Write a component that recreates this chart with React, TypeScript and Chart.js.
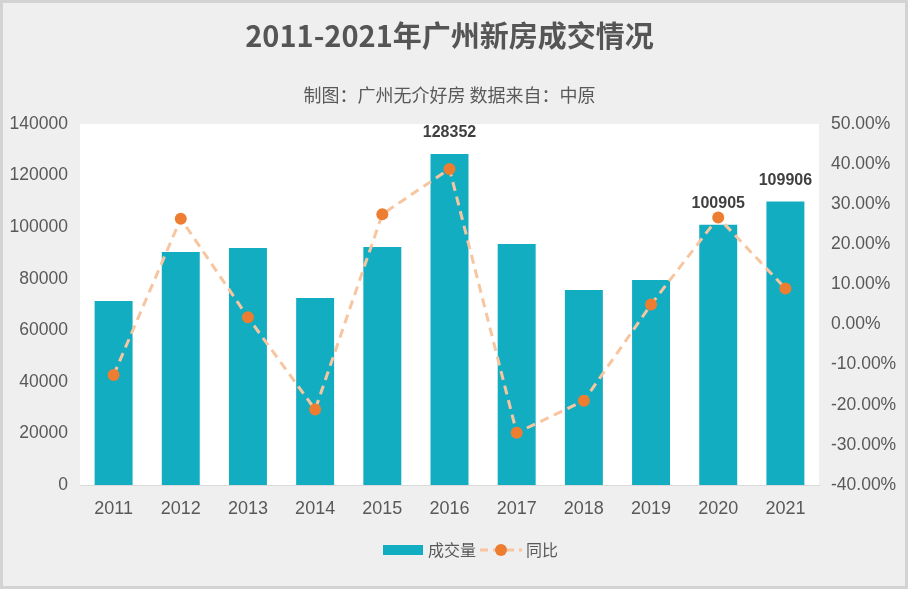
import React, { useEffect, useRef } from "react";
import { Chart, registerables } from "chart.js";

Chart.register(...registerables);

// 广州新房成交量（套）与同比增速（%）
const years = ["2011", "2012", "2013", "2014", "2015", "2016", "2017", "2018", "2019", "2020", "2021"];
const volume = [71400, 90400, 91900, 72500, 92300, 128352, 93500, 75600, 79500, 100905, 109906];
const yoy = [-12.6, 26.4, 1.8, -21.2, 27.5, 38.8, -27.0, -19.0, 5.0, 26.7, 9.0];
const labeledYears = ["2016", "2020", "2021"];

const leftTicks = { min: 0, max: 140000, step: 20000 };
const rightTicks = { min: -40, max: 50, step: 10 };

const TEXT = "#595959";
const BAR = "#13adc2";
const LINE = "#f7c6a1";
const DOT = "#ed7d31";
const LATIN = '"Liberation Sans", "Noto Sans CJK SC", sans-serif';
const CJK = '"Noto Sans CJK SC", "Liberation Sans", sans-serif';

// page background, frame and white plot panel
const panelPlugin = {
  id: "panel",
  beforeDraw(chart: any) {
    const { ctx, width, height, chartArea } = chart;
    ctx.save();
    ctx.fillStyle = "#efefef";
    ctx.fillRect(0, 0, width, height);
    ctx.strokeStyle = "#d3d3d3";
    ctx.lineWidth = 3;
    ctx.strokeRect(1.5, 1.5, width - 3, height - 3);
    ctx.fillStyle = "#ffffff";
    ctx.fillRect(chartArea.left, chartArea.top, chartArea.right - chartArea.left, chartArea.bottom - chartArea.top);
    ctx.restore();
  },
};

// value labels above selected bars
const barLabelPlugin = {
  id: "barLabels",
  afterDatasetsDraw(chart: any) {
    const { ctx } = chart;
    const idx = chart.data.datasets.findIndex((d: any) => d.type === "bar");
    const meta = chart.getDatasetMeta(idx);
    const data = chart.data.datasets[idx].data;
    ctx.save();
    ctx.font = `bold 16px ${LATIN}`;
    ctx.fillStyle = "#404040";
    ctx.textAlign = "center";
    ctx.textBaseline = "middle";
    meta.data.forEach((bar: any, i: number) => {
      if (!labeledYears.includes(chart.data.labels[i])) return;
      ctx.fillText(String(data[i]), bar.x, bar.y - 21);
    });
    ctx.restore();
  },
};

// bottom legend: bar swatch and dashed line with marker
const legendPlugin = {
  id: "customLegend",
  afterDraw(chart: any) {
    const { ctx } = chart;
    const y = 550;
    const barSet = chart.data.datasets.find((d: any) => d.type === "bar");
    const lineSet = chart.data.datasets.find((d: any) => d.type === "line");
    ctx.save();
    ctx.font = `16px ${CJK}`;
    ctx.textBaseline = "middle";
    ctx.textAlign = "left";
    let x = 383;
    ctx.fillStyle = BAR;
    ctx.fillRect(x, y - 5, 40, 10);
    x += 45;
    ctx.fillStyle = TEXT;
    ctx.fillText(barSet.label, x, y);
    x += ctx.measureText(barSet.label).width + 4;
    ctx.strokeStyle = LINE;
    ctx.lineWidth = 3;
    ctx.setLineDash([8, 5]);
    ctx.beginPath();
    ctx.moveTo(x, y);
    ctx.lineTo(x + 42, y);
    ctx.stroke();
    ctx.setLineDash([]);
    ctx.fillStyle = DOT;
    ctx.beginPath();
    ctx.arc(x + 21, y, 6, 0, Math.PI * 2);
    ctx.fill();
    x += 46;
    ctx.fillStyle = TEXT;
    ctx.fillText(lineSet.label, x, y);
    ctx.restore();
  },
};

export default function App() {
  const ref = useRef<HTMLCanvasElement>(null);

  useEffect(() => {
    document.body.style.margin = "0";
    const canvas = ref.current;
    if (!canvas) return;
    const chart = new Chart(canvas, {
      data: {
        labels: years,
        datasets: [
          {
            type: "bar",
            label: "成交量",
            data: volume,
            backgroundColor: BAR,
            barPercentage: 0.565,
            categoryPercentage: 1,
            yAxisID: "y",
            order: 1,
          },
          {
            type: "line",
            label: "同比",
            data: yoy,
            borderColor: LINE,
            borderWidth: 3,
            borderDash: [9, 6],
            pointRadius: 6,
            pointBackgroundColor: DOT,
            pointBorderWidth: 0,
            tension: 0,
            yAxisID: "y1",
            order: 0,
          },
        ],
      } as any,
      options: {
        responsive: false,
        animation: false,
        layout: { padding: { left: 0, right: 0, top: 0, bottom: 64 } },
        plugins: {
          legend: { display: false },
          tooltip: { enabled: false },
          title: {
            display: true,
            fullSize: false,
            text: "2011-2021年广州新房成交情况",
            color: "#555555",
            font: { family: CJK, size: 29, weight: "bold" },
            padding: { top: 18.6, bottom: 30.8 },
          },
          subtitle: {
            display: true,
            fullSize: false,
            text: "制图：广州无介好房 数据来自：中原",
            color: TEXT,
            font: { family: CJK, size: 18 },
            padding: { top: 0, bottom: 18.2 },
          },
        },
        scales: {
          x: {
            grid: { display: false },
            border: { display: true, color: "#d9d9d9", width: 1 },
            ticks: { color: TEXT, font: { family: LATIN, size: 18 }, padding: 5 },
            afterFit(scale: any) {
              scale.height = 40;
            },
          },
          y: {
            position: "left",
            min: leftTicks.min,
            max: leftTicks.max,
            grid: { display: false, drawTicks: false },
            border: { display: false },
            ticks: {
              stepSize: leftTicks.step,
              color: TEXT,
              font: { family: LATIN, size: 17.5 },
              padding: 12,
              callback: (v: any) => String(v),
            },
            afterFit(scale: any) {
              scale.width = 80;
            },
          },
          y1: {
            position: "right",
            min: rightTicks.min,
            max: rightTicks.max,
            grid: { display: false, drawTicks: false },
            border: { display: false },
            ticks: {
              stepSize: rightTicks.step,
              color: TEXT,
              font: { family: LATIN, size: 17.5 },
              padding: 12,
              callback: (v: any) => Number(v).toFixed(2) + "%",
            },
            afterFit(scale: any) {
              scale.width = 89;
            },
          },
        },
      } as any,
      plugins: [panelPlugin, barLabelPlugin, legendPlugin],
    });
    return () => chart.destroy();
  }, []);

  return (
    <div style={{ width: 908, height: 589 }}>
      <canvas ref={ref} width={908} height={589} style={{ display: "block" }} />
    </div>
  );
}
